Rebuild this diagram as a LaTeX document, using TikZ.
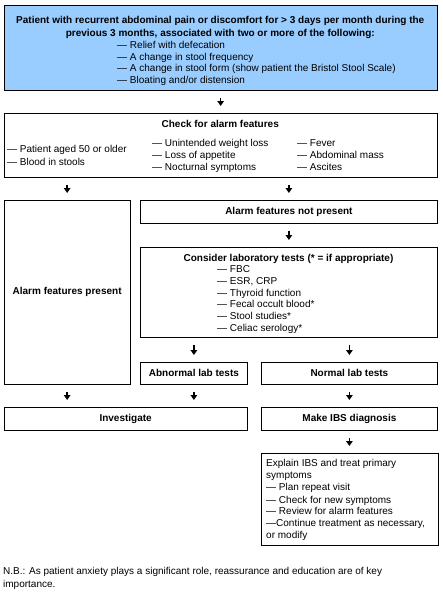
\documentclass[tikz,border=0pt]{standalone}
\usepackage{fontspec}
\setmainfont{Liberation Sans}
\usetikzlibrary{arrows.meta}
\definecolor{topblue}{RGB}{153,204,255}
\tikzset{
  box/.style={draw, line width=0.8pt, inner sep=0pt, anchor=north west},
  bt/.style={font=\fontsize{10}{12}\selectfont\bfseries},
  txt/.style={inner sep=0pt, anchor=base west, font=\fontsize{10}{12}\selectfont},
  ctitle/.style={inner sep=0pt, anchor=base, font=\fontsize{10}{12}\selectfont\bfseries},
  arr/.style={-{Triangle[width=6.5pt,length=5pt]}, line width=1.6pt, shorten <=7pt, shorten >=7pt},
}
\begin{document}
\begin{tikzpicture}[x=1pt,y=-1pt]
\useasboundingbox (0,0) rectangle (443,595);
% top box
\node[box, fill=topblue, minimum width=433.5pt, minimum height=85.5pt] (top) at (3.5,4.5) {};
\node[ctitle] (t1) at (220.25,23.5) {Patient with recurrent abdominal pain or discomfort for > 3 days per month during the};
\node[ctitle] (t2) at (220.25,36.5) {previous 3 months, associated with two or more of the following:};
\node[txt] (t3) at (117,48.5) {— Relief with defecation};
\node[txt] (t4) at (117,60.2) {— A change in stool frequency};
\node[txt] (t5) at (117,71.9) {— A change in stool form (show patient the Bristol Stool Scale)};
\node[txt] (t6) at (117,83.5) {— Bloating and/or distension};
% check box
\node[box, minimum width=433.5pt, minimum height=64pt] (check) at (3.5,113) {};
\node[ctitle] (c0) at (220.25,127.5) {Check for alarm features};
\node[txt] (c1) at (7,152.5) {— Patient aged 50 or older};
\node[txt] (c2) at (7,165) {— Blood in stools};
\node[txt] (c3) at (152,146.5) {— Unintended weight loss};
\node[txt] (c4) at (152,158.5) {— Loss of appetite};
\node[txt] (c5) at (152,170.5) {— Nocturnal symptoms};
\node[txt] (c6) at (297,146.5) {— Fever};
\node[txt] (c7) at (297,158.5) {— Abdominal mass};
\node[txt] (c8) at (297,170.5) {— Ascites};
% left column box
\node[box, bt, minimum width=126.5pt, minimum height=184pt] (present) at (3.5,200) {Alarm features present};
% not present
\node[box, bt, minimum width=297pt, minimum height=23pt] (notpres) at (140,200) {Alarm features not present};
% lab tests
\node[box, minimum width=297pt, minimum height=90pt] (lab) at (140,247) {};
\node[ctitle] (l0) at (288.5,261.5) {Consider laboratory tests (* = if appropriate)};
\node[txt] (l1) at (217,272.5) {— FBC};
\node[txt] (l2) at (217,284) {— ESR, CRP};
\node[txt] (l3) at (217,296.5) {— Thyroid function};
\node[txt] (l4) at (217,307.5) {— Fecal occult blood*};
\node[txt] (l5) at (217,319.5) {— Stool studies*};
\node[txt] (l6) at (217,331.5) {— Celiac serology*};
% results
\node[box, bt, minimum width=107pt, minimum height=22pt] (abn) at (140,362) {Abnormal lab tests};
\node[box, bt, minimum width=176pt, minimum height=22pt] (norm) at (261,362) {Normal lab tests};
\node[box, bt, minimum width=243.5pt, minimum height=23pt] (inv) at (3.5,407) {Investigate};
\node[box, bt, minimum width=176pt, minimum height=23pt] (ibs) at (261,407) {Make IBS diagnosis};
% explain
\node[box, minimum width=177pt, minimum height=92pt] (expl) at (261,453) {};
\node[txt] (e1) at (266,466.5) {Explain IBS and treat primary};
\node[txt] (e2) at (266,478.5) {symptoms};
\node[txt] (e3) at (266,490.5) {— Plan repeat visit};
\node[txt] (e4) at (266,503) {— Check for new symptoms};
\node[txt] (e5) at (266,514.5) {— Review for alarm features};
\node[txt] (e6) at (266,526.5) {—Continue treatment as necessary,};
\node[txt] (e7) at (266,538.5) {or modify};
% note
\node[txt] (n1) at (3,574.5) {N.B.: As patient anxiety plays a significant role, reassurance and education are of key};
\node[txt] (n2) at (3,587.5) {importance.};
% arrows
\draw[arr] (top.south) -- (check.north);
\draw[arr] (check.south -| present.north) -- (present.north);
\draw[arr] (check.south -| notpres.north) -- (notpres.north);
\draw[arr] (notpres.south) -- (lab.north);
\draw[arr] (lab.south -| abn.north) -- (abn.north);
\draw[arr] (lab.south -| norm.north) -- (norm.north);
\draw[arr] (present.south) -- (present.south |- inv.north);
\draw[arr] (abn.south) -- (abn.south |- inv.north);
\draw[arr] (norm.south) -- (ibs.north);
\draw[arr] (ibs.south) -- (ibs.south |- expl.north);
\end{tikzpicture}
\end{document}
